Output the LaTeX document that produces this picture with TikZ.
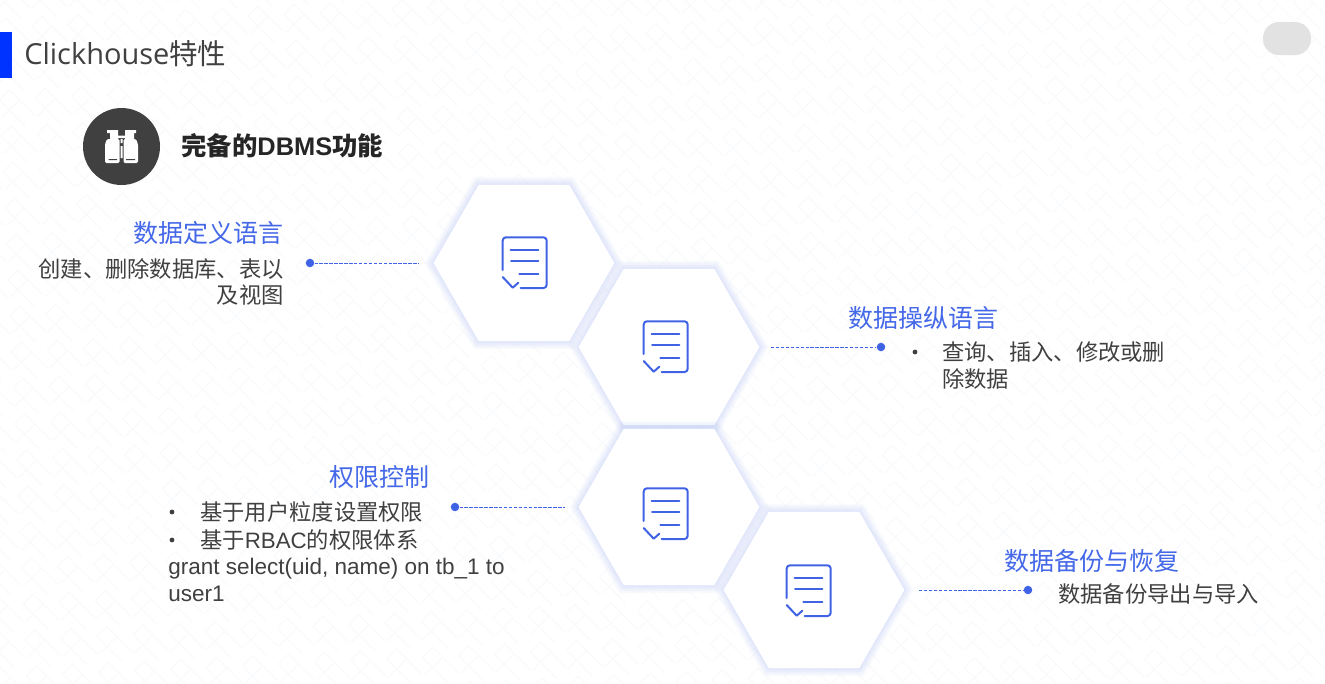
\documentclass[tikz,border=0pt]{standalone}
\usepackage{fontspec}
\usetikzlibrary{shapes.geometric}
\setmainfont{Noto Sans CJK SC}
\newfontfamily\lat{Liberation Sans}
\newfontfamily\titlelat{Open Sans}
\newcommand{\fpx}[1]{\fontsize{\fpeval{#1*0.75}pt}{\fpeval{#1*0.75*1.2}pt}\selectfont}
\definecolor{accent}{HTML}{4063E6}
\definecolor{headc}{HTML}{4468E8}
\definecolor{bodyc}{HTML}{404040}
\definecolor{glowc}{HTML}{A9B9F5}
\definecolor{pat}{HTML}{F8FAFC}
\tikzset{
  hexnode/.style={regular polygon,regular polygon sides=6,minimum size=135.5pt,inner sep=0pt,outer sep=0pt,fill=white,
    preaction={draw=glowc,draw opacity=.06,line width=12pt},
    preaction={draw=glowc,draw opacity=.08,line width=9pt},
    preaction={draw=glowc,draw opacity=.10,line width=6pt},
    preaction={draw=glowc,draw opacity=.10,line width=3pt}},
  headtext/.style={inner sep=0pt,text=headc,font=\fpx{25}},
  bodytext/.style={inner sep=0pt,text=bodyc,font=\fpx{22.3}},
  lattext/.style={inner sep=0pt,text=bodyc,font=\lat\fpx{22.5}},
  dotnode/.style={circle,fill=accent,minimum size=6.4pt,inner sep=0pt},
  bulletnode/.style={circle,fill=bodyc,minimum size=3.6pt,inner sep=0pt},
  leader/.style={draw=accent,line width=.7pt,dash pattern=on 2.6pt off 1.1pt},
  docline/.style={draw=accent,line width=1.5pt,line cap=round,line join=round},
}
\newcommand{\docicon}[2]{%
  \begin{scope}[shift={(#1,#2)}]
    \draw[docline,rounded corners=2.4pt] (-21.3,7) -- (-21.3,-25.7) -- (22.7,-25.7) -- (22.7,25) -- (-3.3,25);
    \draw[docline] (-13.3,-13) -- (14.3,-13);
    \draw[docline] (-13,-1.7) -- (14.3,-1.7);
    \draw[docline] (-4.7,10.7) -- (14.3,10.7);
    \draw[docline] (-21.3,14) -- (-11.3,24.7) -- (-5.7,19.7);
  \end{scope}}
\begin{document}
\begin{tikzpicture}[x=0.75pt,y=-0.75pt]
\useasboundingbox (0,0) rectangle (1325,683);
\fill[white] (0,0) rectangle (1325,683);
% background weave
\begin{scope}
\clip (0,0) rectangle (1325,683);
\foreach \i in {-2,...,38} \foreach \j in {-2,...,20} {
  \draw[pat,line width=.75pt,shift={({\i*36+\j*1.7+6},{\j*36-\i*1.7+28})}]
    (-10,0) -- (0,-10) -- (26,16)
    (-10,0) -- (16,26)
    (10,0) -- (-8,18);
}
\end{scope}
% header
\fill[fill={rgb,255:red,0;green,51;blue,255}] (0,32) rectangle (12,78);
\node[inner sep=0pt,anchor=west,text=bodyc] (title) at (24,54) {\fpx{29}{\titlelat Clickhouse}\fpx{28.5}特性};
\fill[fill={rgb,255:red,226;green,226;blue,226},rounded corners=12pt] (1263,22) rectangle (1311,55);
% binocular badge
\node[circle,fill=bodyc,minimum size=57.75pt,inner sep=0pt] (badge) at (121.5,146.5) {};
\fill[white] (107,130) rectangle (118,133) (125,130) rectangle (136,133)
  (110,133) rectangle (118,140) (125,133) rectangle (134,140)
  (118,135.5) rectangle (125,138)
  (120.5,139) rectangle (122.5,143) (120.5,146) rectangle (122.5,158);
\fill[white,rounded corners=1pt] (107,139) -- (105,144) -- (105,163) -- (119.5,163) -- (119.5,139) -- cycle
  (123.5,139) -- (123.5,163) -- (138,163) -- (138,144) -- (136,139) -- cycle;
\fill[bodyc] (108.5,159) rectangle (117,160.2) (126,159) rectangle (135,160.2);
\node[inner sep=0pt,anchor=west,text={rgb,255:red,38;green,38;blue,38},font=\bfseries\fpx{25.4}] (sub) at (181,145.5) {完备的{\lat\bfseries DBMS}功能};
% hexagons
\node[hexnode] (h1) at (524,263) {};
\node[hexnode] (h2) at (669,347) {};
\node[hexnode] (h3) at (669,507) {};
\node[hexnode] (h4) at (814,590) {};
\docicon{524}{263}
\docicon{665}{347}
\docicon{665}{514}
\docicon{808}{591}
% block 1
\node[headtext,anchor=east] (t1) at (283.5,233) {数据定义语言};
\node[bodytext,anchor=east] (b1) at (284,269) {创建、删除数据库、表以};
\node[bodytext,anchor=east] (b1b) at (284,295) {及视图};
\node[dotnode] (d1) at (310,263) {};
\coordinate (e1) at (419,263);
\draw[leader] (d1) -- (e1);
% block 2
\node[headtext,anchor=west] (t2) at (848,318) {数据操纵语言};
\coordinate (e2) at (771,347);
\node[dotnode] (d2) at (881,347) {};
\draw[leader] (e2) -- (d2);
\node[bulletnode] (p2) at (915,352) {};
\node[bodytext,anchor=west] (b2) at (942,352) {查询、插入、修改或删};
\node[bodytext,anchor=west] (b2b) at (942,379) {除数据};
% block 3
\node[headtext,anchor=west] (t3) at (329,477) {权限控制};
\node[dotnode] (d3) at (455,507) {};
\coordinate (e3) at (565,507);
\draw[leader] (d3) -- (e3);
\node[bulletnode] (p3a) at (172,512) {};
\node[bodytext,anchor=west] (b3a) at (200,512) {基于用户粒度设置权限};
\node[bulletnode] (p3b) at (172,540) {};
\node[bodytext,anchor=west] (b3b) at (200,540) {基于{\lat RBAC}的权限体系};
\node[lattext,anchor=base west] (b3c) at (168,574) {grant select(uid, name) on tb\_1 to};
\node[lattext,anchor=base west] (b3d) at (168,601) {user1};
% block 4
\node[headtext,anchor=west] (t4) at (1004,561) {数据备份与恢复};
\coordinate (e4) at (919,590);
\node[dotnode] (d4) at (1028,590) {};
\draw[leader] (e4) -- (d4);
\node[bodytext,anchor=west] (b4) at (1058,594) {数据备份导出与导入};
\end{tikzpicture}
\end{document}
